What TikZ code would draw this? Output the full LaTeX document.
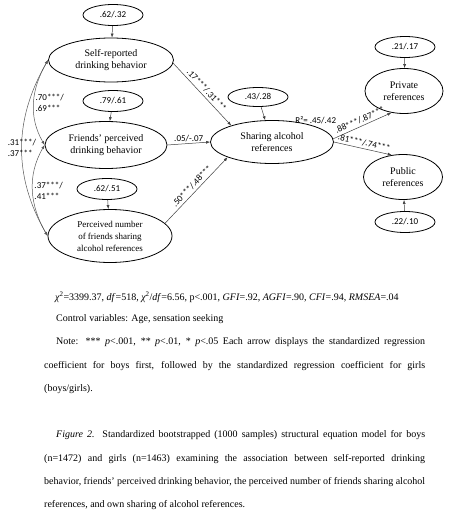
\documentclass[tikz,border=0pt]{standalone}
\usepackage{fontspec}
\setmainfont{Liberation Serif}
\newfontfamily\calib{Carlito}
\usetikzlibrary{shapes.geometric,arrows.meta}
\tikzset{
  latent/.style={ellipse, draw, line width=0.8pt, inner sep=0pt, align=center,
    font=\fontsize{10}{12}\selectfont},
  err/.style={ellipse, draw, line width=0.8pt, inner sep=0pt, minimum width=60pt,
    minimum height=21pt, font=\calib\fontsize{9}{11}\selectfont},
  reg/.style={draw=black!75, line width=0.5pt, -{Latex[length=4pt,width=3pt]}},
  cov/.style={draw=black!65, line width=0.5pt,
    {Latex[length=4pt,width=3pt]}-{Latex[length=4pt,width=3pt]}},
  coef/.style={font=\calib\fontsize{9}{11}\selectfont, inner sep=1.5pt, align=left},
  capline/.style={anchor=base west, inner sep=0pt, font=\fontsize{10}{12}\selectfont}
}
\begin{document}
\begin{tikzpicture}[x=1pt,y=-1pt]
      \useasboundingbox (0,0) rectangle (474,519);
      \draw
        (113,15) node[err] (e1) {.62/.32}
        (111,60) node[latent, minimum width=125pt, minimum height=44pt] (self)
          {Self-reported\\drinking behavior}
        (113,101) node[err] (e2) {.79/.61}
        (106,145) node[latent, minimum width=122pt, minimum height=47pt] (friends)
          {Friends' perceived\\drinking behavior}
        (107,189) node[err] (e3) {.62/.51}
        (110,236) node[latent, minimum width=124pt, minimum height=53pt,
          font=\fontsize{9}{12}\selectfont] (number)
          {Perceived number\\of friends sharing\\alcohol references}
        (258,97) node[err, minimum height=19pt] (e4) {.43/.28}
        (272,142) node[latent, minimum width=123pt, minimum height=43pt] (share)
          {Sharing alcohol\\references}
        (405,47) node[err] (e5) {.21/.17}
        (404,91) node[latent, minimum width=78pt, minimum height=45pt] (priv)
          {Private\\references}
        (403,177) node[latent, minimum width=79pt, minimum height=45pt] (pub)
          {Public\\references}
        (405,222) node[err] (e6) {.22/.10};
      \begin{scope}[reg]
        \draw (e1) -- (self);
        \draw (e2) -- (friends);
        \draw (e3) -- (number);
        \draw (e4) -- (share);
        \draw (e5) -- (priv);
        \draw (e6) -- (pub);
        \draw (self.-3) -- node[coef, sloped, above=1pt] {.17***/.31***} (share.158);
        \draw (friends.east) -- node[coef, above] {.05/-.07} (share.west);
        \draw (number.13) -- node[coef, sloped, above=1pt] {.50***/.48***} (share.199);
        \draw (share.3) -- node[coef, sloped, above=1pt] {.88***/.87***} (priv.240);
        \draw (share.0) -- node[coef, sloped, above=1pt] {.81***/.74***} (pub.117);
      \end{scope}
      \begin{scope}[cov]
        \draw (self.west) to[out=240, in=120]
          node[coef, anchor=west] {.70***/\\.69***} (friends.west);
        \draw (self.west) to[out=240, in=120]
          node[coef] {.31***/\\.37***} (number.west);
        \draw (friends.west) to[out=240, in=120]
          node[coef, anchor=west] {.37***/\\.41***} (number.west);
      \end{scope}
      \node[coef, above=1pt] (r2) at (share.north east) {R²= .45/.42};
      \node[capline] (fit) at (55,300) {{\itshape χ}\textsuperscript{2}=3399.37,
        \textit{df}=518, {\itshape χ}\textsuperscript{2}/\textit{df}=6.56, p<.001,
        \textit{GFI}=.92, \textit{AGFI}=.90, \textit{CFI}=.94, \textit{RMSEA}=.04};
      \node[capline] (ctrl) at (56,321) {Control variables: Age, sensation seeking};
      \node[capline] (note1) at (56,344) {\makebox[369pt][s]{Note: *** \textit{p}<.001,
        ** \textit{p}<.01, * \textit{p}<.05 Each arrow displays the standardized regression}};
      \node[capline] (note2) at (44,368) {\makebox[381pt][s]{coefficient for boys first,
        followed by the standardized regression coefficient for girls}};
      \node[capline] (note3) at (44,391) {(boys/girls).};
      \node[capline] (fig1) at (56,437) {\makebox[369pt][s]{\textit{Figure 2.} Standardized
        bootstrapped (1000 samples) structural equation model for boys}};
      \node[capline] (fig2) at (44,461) {\makebox[381pt][s]{(n=1472) and girls (n=1463)
        examining the association between self-reported drinking}};
      \node[capline] (fig3) at (44,484) {\makebox[381pt][s]{behavior, friends' perceived
        drinking behavior, the perceived number of friends sharing alcohol}};
      \node[capline] (fig4) at (44,507) {references, and own sharing of alcohol references.};
    \end{tikzpicture}
\end{document}
